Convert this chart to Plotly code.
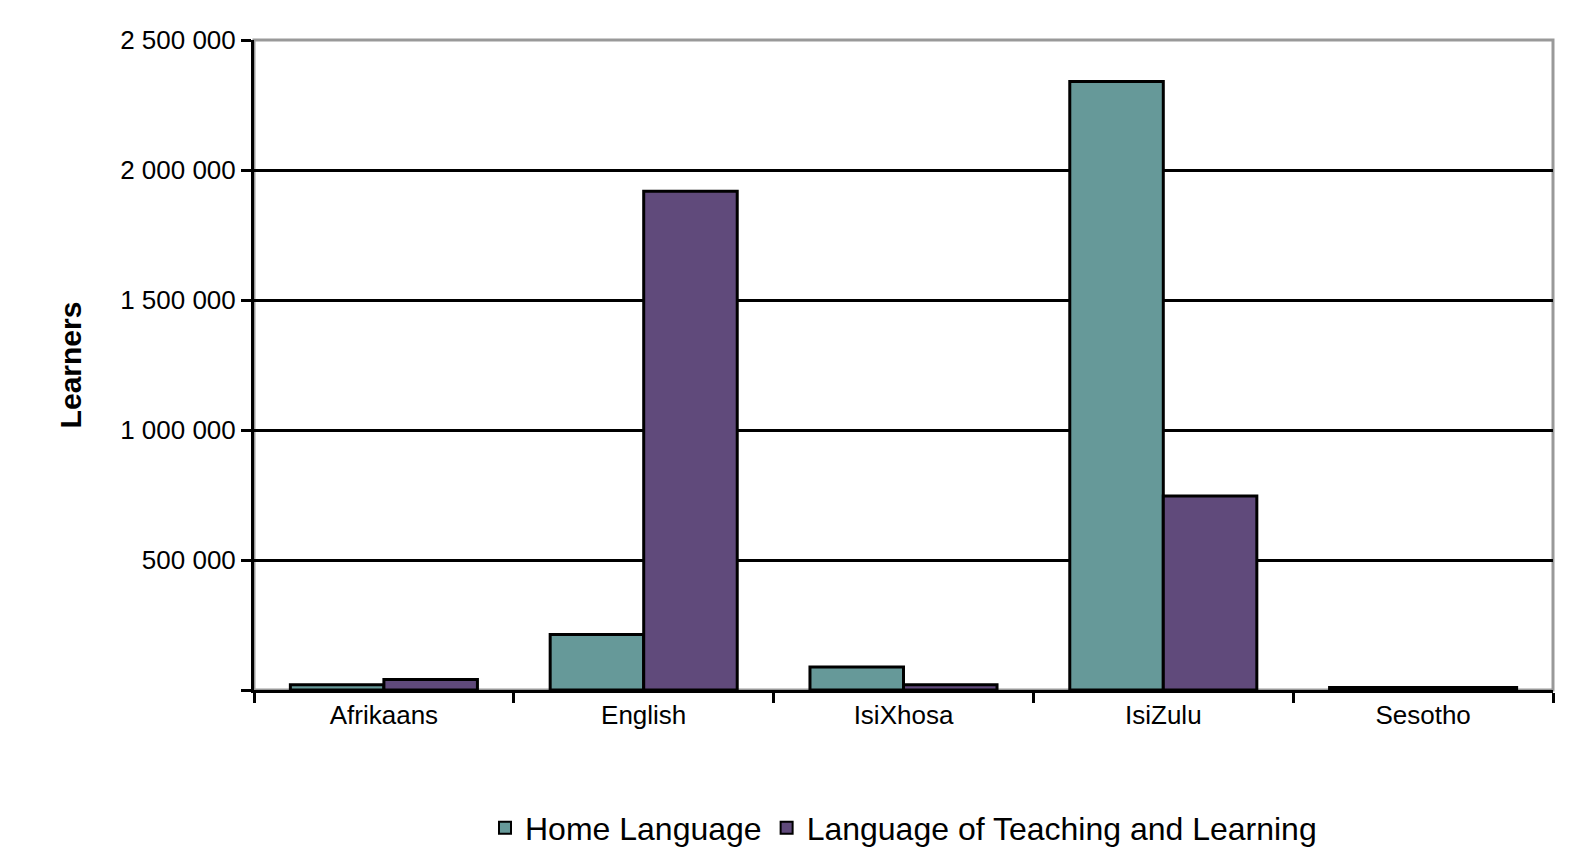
import plotly.graph_objects as go

categories = ["Afrikaans", "English", "IsiXhosa", "IsiZulu", "Sesotho"]
home = [20000, 213000, 88000, 2340000, 10000]
lolt = [40000, 1918000, 20000, 746000, 10000]
tickvals = [0, 500000, 1000000, 1500000, 2000000, 2500000]
ticktext = ["", "500 000", "1 000 000", "1 500 000", "2 000 000", "2 500 000"]

fig = go.Figure()
fig.add_bar(x=categories, y=home, name="Home Language",
            marker=dict(color="#669999", line=dict(color="black", width=3)))
fig.add_bar(x=categories, y=lolt, name="Language of Teaching and Learning",
            marker=dict(color="#604a7b", line=dict(color="black", width=3)))
fig.update_layout(
    width=1582, height=860, plot_bgcolor="white", paper_bgcolor="white",
    margin=dict(l=246, r=37, t=32, b=171),
    barmode="group", bargap=0.28, bargroupgap=0,
    font=dict(family="Liberation Sans Narrow, Arial Narrow, Liberation Sans", size=26, color="black"),
    legend=dict(orientation="h", x=0.5, xanchor="center", y=-0.17, yanchor="top",
                font=dict(size=32), itemsizing="constant"),
    xaxis=dict(showline=True, linecolor="black", linewidth=3, ticks="outside",
               tickcolor="black", ticklen=10, tickwidth=3, tickson="boundaries",
               mirror=False, tickfont=dict(size=26)),
    yaxis=dict(range=[0, 2500000], tickvals=tickvals, ticktext=ticktext,
               showgrid=True, gridcolor="black", gridwidth=3, showline=True,
               linecolor="black", linewidth=3, ticks="outside", tickcolor="black",
               ticklen=10, tickwidth=3, zeroline=False,
               title=dict(text="<b>Learners</b>", font=dict(size=30,
                          family="Liberation Sans"), standoff=30)),
)
fig.add_shape(type="rect", xref="paper", yref="paper", x0=0, x1=1, y0=0, y1=1,
              line=dict(color="#999999", width=3), layer="below")
fig.write_html("out.html")
